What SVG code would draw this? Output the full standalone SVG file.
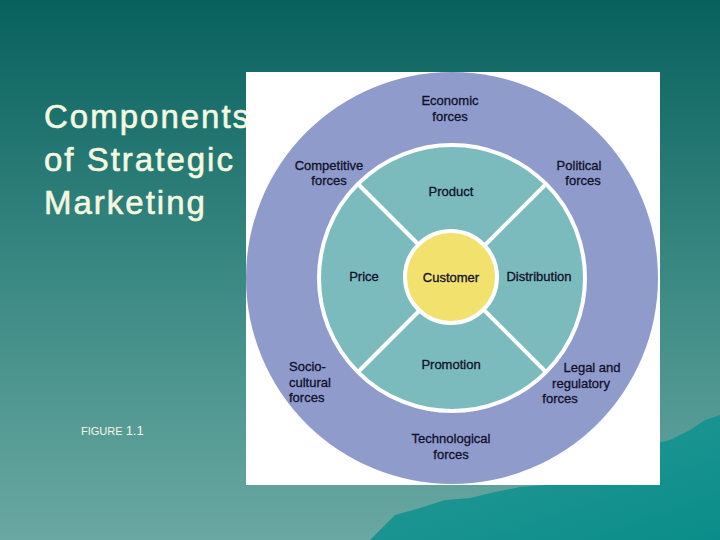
<svg xmlns="http://www.w3.org/2000/svg" width="720" height="540" viewBox="0 0 720 540">
<defs>
<linearGradient id="bg" x1="0" y1="0" x2="0" y2="1">
<stop offset="0" stop-color="#08615d"/>
<stop offset="0.5" stop-color="#3a8882"/>
<stop offset="1" stop-color="#6aa8a2"/>
</linearGradient>
<linearGradient id="mt" x1="0" y1="0" x2="1" y2="1">
<stop offset="0" stop-color="#2a9a96"/>
<stop offset="1" stop-color="#0a8d8a"/>
</linearGradient>
<style>
.t{font-family:"Liberation Sans",Arial,sans-serif;fill:#10102a;font-size:13px;text-anchor:middle;stroke:#10102a;stroke-width:0.3}
.title{font-family:"Liberation Sans",Arial,sans-serif;fill:#f4f8e0;font-size:33px;letter-spacing:2px;stroke:#f4f8e0;stroke-width:0.6}
</style>
</defs>
<rect width="720" height="540" fill="url(#bg)"/>
<path d="M370 540 L395 515 L420 508 L445 500 L470 498 L495 492 L520 487 L545 485 L560 478 L580 480 L600 470 L620 455 L650 445 L670 440 L690 430 L705 420 L720 415 L720 540 Z" fill="url(#mt)"/>
<g id="title">
<text class="title" x="44" y="128">Components</text>
<text class="title" x="44" y="171">of Strategic</text>
<text class="title" x="44" y="214">Marketing</text>
</g>
<text x="81" y="435" font-family="Liberation Sans,Arial,sans-serif" font-size="11" fill="#f4f8e8">FIGURE <tspan font-size="13">1.1</tspan></text>
<rect x="246" y="72" width="414" height="413" fill="#ffffff"/>
<g id="outer"><circle cx="452" cy="278" r="206" fill="#8f9bcb"/></g>
<g id="middle"><circle cx="452" cy="278" r="133" fill="#7bbabd" stroke="#ffffff" stroke-width="4"/></g>
<g id="connectors" stroke="#ffffff" stroke-width="4">
<line x1="358" y1="184" x2="420" y2="246"/>
<line x1="546" y1="184" x2="484" y2="246"/>
<line x1="358" y1="372" x2="420" y2="310"/>
<line x1="546" y1="372" x2="484" y2="310"/>
</g>
<g id="customer"><circle cx="451" cy="277" r="46" fill="#f3e16e" stroke="#ffffff" stroke-width="4"/>
<text class="t" x="451" y="282">Customer</text></g>
<g id="product"><text class="t" x="451" y="196">Product</text></g>
<g id="price"><text class="t" x="364" y="281">Price</text></g>
<g id="distribution"><text class="t" x="539" y="281">Distribution</text></g>
<g id="promotion"><text class="t" x="451" y="369">Promotion</text></g>
<g id="economic"><text class="t" x="450" y="105">Economic</text><text class="t" x="450" y="121">forces</text></g>
<g id="competitive"><text class="t" x="329" y="170">Competitive</text><text class="t" x="329" y="185">forces</text></g>
<g id="political"><text class="t" x="579" y="170">Political</text><text class="t" x="583" y="185">forces</text></g>
<g id="socio"><text class="t" x="289" y="371" style="text-anchor:start">Socio-</text><text class="t" x="289" y="387" style="text-anchor:start">cultural</text><text class="t" x="289" y="402" style="text-anchor:start">forces</text></g>
<g id="legal"><text class="t" x="592" y="372">Legal and</text><text class="t" x="581" y="388">regulatory</text><text class="t" x="560" y="403">forces</text></g>
<g id="tech"><text class="t" x="451" y="443">Technological</text><text class="t" x="451" y="459">forces</text></g>
</svg>
